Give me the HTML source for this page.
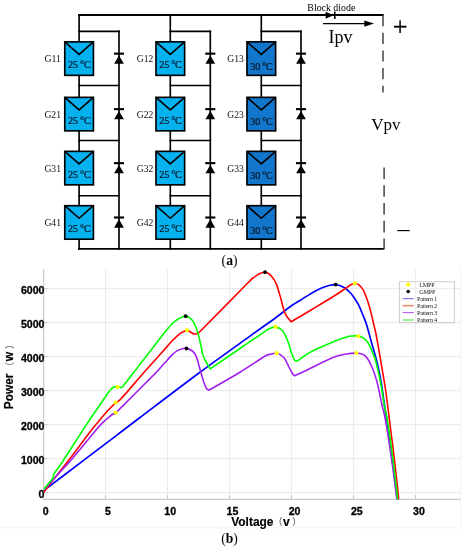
<!DOCTYPE html>
<html><head><meta charset="utf-8"><style>
html,body{margin:0;padding:0;background:#fff;}
svg{display:block;}
</style></head><body>
<svg width="466" height="550" viewBox="0 0 466 550">
<g fill="none" stroke="#000" stroke-width="1.65" stroke-linecap="square"><path d="M79.1 15.0H382.8" stroke-width="1.8"/><path d="M79.1 248.9H383.4" stroke-width="1.9"/><path d="M79.1 15.0V41.85" /><path d="M79.1 75.35V97.35" /><path d="M79.1 130.85V151.35" /><path d="M79.1 184.85V205.7" /><path d="M79.1 239.2V248.9" /><path d="M79.1 31.35H119.0" /><path d="M79.1 85.45H119.0" /><path d="M79.1 140.5H119.0" /><path d="M79.1 195.7H119.0" /><path d="M119.0 31.35V248.9" /><path d="M170.3 15.0V41.85" /><path d="M170.3 75.35V97.35" /><path d="M170.3 130.85V151.35" /><path d="M170.3 184.85V205.7" /><path d="M170.3 239.2V248.9" /><path d="M170.3 31.35H210.3" /><path d="M170.3 85.45H210.3" /><path d="M170.3 140.5H210.3" /><path d="M170.3 195.7H210.3" /><path d="M210.3 31.35V248.9" /><path d="M261.3 15.0V41.85" /><path d="M261.3 75.35V97.35" /><path d="M261.3 130.85V151.35" /><path d="M261.3 184.85V205.7" /><path d="M261.3 239.2V248.9" /><path d="M261.3 31.35H301.0" /><path d="M261.3 85.45H301.0" /><path d="M261.3 140.5H301.0" /><path d="M261.3 195.7H301.0" /><path d="M301.0 31.35V248.9" /></g><g fill="#000"><path d="M114.10 63.80L119.0 55.40L123.90 63.80Z" /><rect x="113.95" y="52.60" width="10.1" height="2.1" /><path d="M114.10 119.30L119.0 110.90L123.90 119.30Z" /><rect x="113.95" y="108.10" width="10.1" height="2.1" /><path d="M114.10 173.30L119.0 164.90L123.90 173.30Z" /><rect x="113.95" y="162.10" width="10.1" height="2.1" /><path d="M114.10 227.65L119.0 219.25L123.90 227.65Z" /><rect x="113.95" y="216.45" width="10.1" height="2.1" /><path d="M205.40 63.80L210.3 55.40L215.20 63.80Z" /><rect x="205.25" y="52.60" width="10.1" height="2.1" /><path d="M205.40 119.30L210.3 110.90L215.20 119.30Z" /><rect x="205.25" y="108.10" width="10.1" height="2.1" /><path d="M205.40 173.30L210.3 164.90L215.20 173.30Z" /><rect x="205.25" y="162.10" width="10.1" height="2.1" /><path d="M205.40 227.65L210.3 219.25L215.20 227.65Z" /><rect x="205.25" y="216.45" width="10.1" height="2.1" /><path d="M296.10 63.80L301.0 55.40L305.90 63.80Z" /><rect x="295.95" y="52.60" width="10.1" height="2.1" /><path d="M296.10 119.30L301.0 110.90L305.90 119.30Z" /><rect x="295.95" y="108.10" width="10.1" height="2.1" /><path d="M296.10 173.30L301.0 164.90L305.90 173.30Z" /><rect x="295.95" y="162.10" width="10.1" height="2.1" /><path d="M296.10 227.65L301.0 219.25L305.90 227.65Z" /><rect x="295.95" y="216.45" width="10.1" height="2.1" /></g><rect x="64.77" y="41.85" width="28.65" height="33.5" fill="#06B1F0" stroke="#000" stroke-width="1.65"/><path d="M64.77 41.85L79.10 54.45L93.42 41.85" fill="none" stroke="#000" stroke-width="1.6"/><rect x="64.77" y="97.35" width="28.65" height="33.5" fill="#06B1F0" stroke="#000" stroke-width="1.65"/><path d="M64.77 97.35L79.10 109.94999999999999L93.42 97.35" fill="none" stroke="#000" stroke-width="1.6"/><rect x="64.77" y="151.35" width="28.65" height="33.5" fill="#06B1F0" stroke="#000" stroke-width="1.65"/><path d="M64.77 151.35L79.10 163.95L93.42 151.35" fill="none" stroke="#000" stroke-width="1.6"/><rect x="64.77" y="205.7" width="28.65" height="33.5" fill="#06B1F0" stroke="#000" stroke-width="1.65"/><path d="M64.77 205.7L79.10 218.29999999999998L93.42 205.7" fill="none" stroke="#000" stroke-width="1.6"/><rect x="155.98" y="41.85" width="28.65" height="33.5" fill="#06B1F0" stroke="#000" stroke-width="1.65"/><path d="M155.98 41.85L170.30 54.45L184.63 41.85" fill="none" stroke="#000" stroke-width="1.6"/><rect x="155.98" y="97.35" width="28.65" height="33.5" fill="#06B1F0" stroke="#000" stroke-width="1.65"/><path d="M155.98 97.35L170.30 109.94999999999999L184.63 97.35" fill="none" stroke="#000" stroke-width="1.6"/><rect x="155.98" y="151.35" width="28.65" height="33.5" fill="#06B1F0" stroke="#000" stroke-width="1.65"/><path d="M155.98 151.35L170.30 163.95L184.63 151.35" fill="none" stroke="#000" stroke-width="1.6"/><rect x="155.98" y="205.7" width="28.65" height="33.5" fill="#06B1F0" stroke="#000" stroke-width="1.65"/><path d="M155.98 205.7L170.30 218.29999999999998L184.63 205.7" fill="none" stroke="#000" stroke-width="1.6"/><rect x="246.98" y="41.85" width="28.65" height="33.5" fill="#1276CC" stroke="#000" stroke-width="1.65"/><path d="M246.98 41.85L261.30 54.45L275.62 41.85" fill="none" stroke="#000" stroke-width="1.6"/><rect x="246.98" y="97.35" width="28.65" height="33.5" fill="#1276CC" stroke="#000" stroke-width="1.65"/><path d="M246.98 97.35L261.30 109.94999999999999L275.62 97.35" fill="none" stroke="#000" stroke-width="1.6"/><rect x="246.98" y="151.35" width="28.65" height="33.5" fill="#1276CC" stroke="#000" stroke-width="1.65"/><path d="M246.98 151.35L261.30 163.95L275.62 151.35" fill="none" stroke="#000" stroke-width="1.6"/><rect x="246.98" y="205.7" width="28.65" height="33.5" fill="#1276CC" stroke="#000" stroke-width="1.65"/><path d="M246.98 205.7L261.30 218.29999999999998L275.62 205.7" fill="none" stroke="#000" stroke-width="1.6"/><g font-family="Liberation Serif, serif" fill="#111"><text x="79.30" y="68.35" text-anchor="middle" font-size="10.2" letter-spacing="-0.25" fill="#08141f" stroke="#08141f" stroke-width="0.22">25 °C</text><text x="61.00" y="62.25" text-anchor="end" font-size="11.4" textLength="16.6" lengthAdjust="spacingAndGlyphs">G11</text><text x="79.30" y="123.85" text-anchor="middle" font-size="10.2" letter-spacing="-0.25" fill="#08141f" stroke="#08141f" stroke-width="0.22">25 °C</text><text x="61.00" y="117.75" text-anchor="end" font-size="11.4" textLength="16.6" lengthAdjust="spacingAndGlyphs">G21</text><text x="79.30" y="177.85" text-anchor="middle" font-size="10.2" letter-spacing="-0.25" fill="#08141f" stroke="#08141f" stroke-width="0.22">25 °C</text><text x="61.00" y="171.75" text-anchor="end" font-size="11.4" textLength="16.6" lengthAdjust="spacingAndGlyphs">G31</text><text x="79.30" y="232.20" text-anchor="middle" font-size="10.2" letter-spacing="-0.25" fill="#08141f" stroke="#08141f" stroke-width="0.22">25 °C</text><text x="61.00" y="226.10" text-anchor="end" font-size="11.4" textLength="16.6" lengthAdjust="spacingAndGlyphs">G41</text><text x="170.50" y="68.35" text-anchor="middle" font-size="10.2" letter-spacing="-0.25" fill="#08141f" stroke="#08141f" stroke-width="0.22">25 °C</text><text x="153.40" y="62.25" text-anchor="end" font-size="11.4" textLength="16.6" lengthAdjust="spacingAndGlyphs">G12</text><text x="170.50" y="123.85" text-anchor="middle" font-size="10.2" letter-spacing="-0.25" fill="#08141f" stroke="#08141f" stroke-width="0.22">25 °C</text><text x="153.40" y="117.75" text-anchor="end" font-size="11.4" textLength="16.6" lengthAdjust="spacingAndGlyphs">G22</text><text x="170.50" y="177.85" text-anchor="middle" font-size="10.2" letter-spacing="-0.25" fill="#08141f" stroke="#08141f" stroke-width="0.22">25 °C</text><text x="153.40" y="171.75" text-anchor="end" font-size="11.4" textLength="16.6" lengthAdjust="spacingAndGlyphs">G32</text><text x="170.50" y="232.20" text-anchor="middle" font-size="10.2" letter-spacing="-0.25" fill="#08141f" stroke="#08141f" stroke-width="0.22">25 °C</text><text x="153.40" y="226.10" text-anchor="end" font-size="11.4" textLength="16.6" lengthAdjust="spacingAndGlyphs">G42</text><text x="261.50" y="69.75" text-anchor="middle" font-size="10.2" letter-spacing="-0.25" fill="#08141f" stroke="#08141f" stroke-width="0.22">30 °C</text><text x="243.90" y="62.25" text-anchor="end" font-size="11.4" textLength="16.6" lengthAdjust="spacingAndGlyphs">G13</text><text x="261.50" y="125.25" text-anchor="middle" font-size="10.2" letter-spacing="-0.25" fill="#08141f" stroke="#08141f" stroke-width="0.22">30 °C</text><text x="243.90" y="117.75" text-anchor="end" font-size="11.4" textLength="16.6" lengthAdjust="spacingAndGlyphs">G23</text><text x="261.50" y="179.25" text-anchor="middle" font-size="10.2" letter-spacing="-0.25" fill="#08141f" stroke="#08141f" stroke-width="0.22">30 °C</text><text x="243.90" y="171.75" text-anchor="end" font-size="11.4" textLength="16.6" lengthAdjust="spacingAndGlyphs">G33</text><text x="261.50" y="233.60" text-anchor="middle" font-size="10.2" letter-spacing="-0.25" fill="#08141f" stroke="#08141f" stroke-width="0.22">30 °C</text><text x="243.90" y="226.10" text-anchor="end" font-size="11.4" textLength="16.6" lengthAdjust="spacingAndGlyphs">G44</text></g><g font-family="Liberation Serif, serif" fill="#000"><text x="307.3" y="10.8" font-size="9.9">Block diode</text><text x="328.5" y="42.5" font-size="18">Ipv</text><text x="371.3" y="130" font-size="17">Vpv</text><text x="221.6" y="265.2" font-size="13.6">(<tspan font-weight="bold">a</tspan>)</text><text x="221.2" y="543.4" font-size="13.6">(<tspan font-weight="bold">b</tspan>)</text></g><path d="M325.6 11.7L333.6 15.2L325.6 18.8Z" fill="#000"/><rect x="334" y="11.6" width="1.6" height="7.4" fill="#000"/><path d="M323 23.6H366" stroke="#000" stroke-width="1.4"/><path d="M364.3 20.5L374 23.6L364.3 26.7Z" fill="#000"/><text x="392.7" y="35.3" font-family="Liberation Serif, serif" font-size="26.2" fill="#000" stroke="#000" stroke-width="0.3">+</text><text x="397.4" y="236.0" font-family="Liberation Serif, serif" font-size="24.1" fill="#000">–</text><path d="M383 15V92.5" stroke="#444" stroke-width="1.5" stroke-dasharray="11.2 6.5" /><path d="M384.1 167.4V249" stroke="#444" stroke-width="1.5" stroke-dasharray="11.6 6.2" /><path d="M0 527.9H460.6V268" fill="none" stroke="#f2f2f2" stroke-width="1"/><path d="M105.5 269V499.3 M167.5 269V499.3 M229.4 269V499.3 M291.4 269V499.3 M353.4 269V499.3 M415.4 269V499.3 M43.7 492.6H460.6 M43.7 458.6H460.6 M43.7 424.6H460.6 M43.7 390.6H460.6 M43.7 356.6H460.6 M43.7 322.6H460.6 M43.7 288.6H460.6" stroke="#ebebeb" stroke-width="1" fill="none"/><path d="M105.5 495.2V499.3 M167.5 495.2V499.3 M229.4 495.2V499.3 M291.4 495.2V499.3 M353.4 495.2V499.3 M415.4 495.2V499.3 M43.7 492.6H47.9 M43.7 458.6H47.9 M43.7 424.6H47.9 M43.7 390.6H47.9 M43.7 356.6H47.9 M43.7 322.6H47.9 M43.7 288.6H47.9" stroke="#c4c4c4" stroke-width="1" fill="none"/><path d="M43.7 269V499.3H460.6" stroke="#c8c8c8" stroke-width="1.2" fill="none"/><g font-family="Liberation Sans, Arial, sans-serif" font-weight="bold" font-size="10.6" fill="#000" stroke="#000" stroke-width="0.3"><text x="44.5" y="497.9" text-anchor="end">0</text><text x="44.5" y="463.9" text-anchor="end">1000</text><text x="44.5" y="429.9" text-anchor="end">2000</text><text x="44.5" y="395.9" text-anchor="end">3000</text><text x="44.5" y="361.9" text-anchor="end">4000</text><text x="44.5" y="327.9" text-anchor="end">5000</text><text x="44.5" y="293.9" text-anchor="end">6000</text><text x="45.8" y="514.6" text-anchor="middle">0</text><text x="108.0" y="514.6" text-anchor="middle">5</text><text x="170.2" y="514.6" text-anchor="middle">10</text><text x="232.4" y="514.6" text-anchor="middle">15</text><text x="294.6" y="514.6" text-anchor="middle">20</text><text x="356.8" y="514.6" text-anchor="middle">25</text><text x="419.0" y="514.6" text-anchor="middle">30</text></g><text font-family="Liberation Sans, Arial, sans-serif" font-weight="bold" font-size="12.2" fill="#000" stroke="#000" stroke-width="0.15"><tspan x="231.2" y="525.8" textLength="42.3" lengthAdjust="spacingAndGlyphs">Voltage</tspan><tspan x="273.1" y="525.1" font-family="Noto Sans CJK SC, sans-serif" font-weight="normal" font-size="9.5" fill="#444" stroke="none">（</tspan><tspan x="283.1" y="525.6">v</tspan><tspan x="292.3" y="525.1" font-family="Noto Sans CJK SC, sans-serif" font-weight="normal" font-size="9.5" fill="#444" stroke="none">）</tspan></text><text transform="translate(12.7 409.2) rotate(-90)" font-family="Liberation Sans, Arial, sans-serif" font-weight="bold" font-size="12.2" fill="#000" stroke="#000" stroke-width="0.15"><tspan x="0" y="0" textLength="35.6" lengthAdjust="spacingAndGlyphs">Power</tspan><tspan x="37.6" y="0.3" font-family="Noto Sans CJK SC, sans-serif" font-weight="normal" font-size="9.5" fill="#444" stroke="none">（</tspan><tspan x="47.9" y="0.4">w</tspan><tspan x="60.3" y="0.3" font-family="Noto Sans CJK SC, sans-serif" font-weight="normal" font-size="9.5" fill="#444" stroke="none">）</tspan></text><svg x="43.7" y="260" width="417" height="239.3" viewBox="43.7 260 417 239.3" overflow="hidden"><path d="M43.60 490.60 C46.67 488.28 50.93 485.07 62.00 476.70 C73.07 468.33 97.00 450.27 110.00 440.40 C123.00 430.53 125.00 428.87 140.00 417.50 C155.00 406.13 181.67 385.77 200.00 372.20 C218.33 358.63 237.50 345.10 250.00 336.10 C262.50 327.10 268.33 323.08 275.00 318.20 C281.67 313.32 285.72 309.83 290.00 306.80 C294.28 303.77 297.12 302.27 300.70 300.00 C304.28 297.73 307.92 295.23 311.50 293.20 C315.08 291.17 319.28 289.08 322.20 287.80 C325.12 286.52 326.75 286.03 329.00 285.50 C331.25 284.97 333.27 284.32 335.70 284.60 C338.13 284.88 341.20 285.88 343.60 287.20 C346.00 288.52 348.32 290.70 350.10 292.50 C351.88 294.30 352.88 295.93 354.30 298.00 C355.72 300.07 357.45 302.75 358.60 304.90 C359.75 307.05 360.35 308.90 361.20 310.90 C362.05 312.90 362.87 314.78 363.70 316.90 C364.53 319.02 365.28 320.77 366.20 323.60 C367.12 326.43 368.28 330.62 369.20 333.90 C370.12 337.18 370.95 340.62 371.70 343.30 C372.45 345.98 372.78 346.73 373.70 350.00 C374.62 353.27 376.18 358.73 377.20 362.90 C378.22 367.07 379.07 371.32 379.80 375.00 C380.53 378.68 380.82 380.00 381.60 385.00 C382.38 390.00 383.67 399.17 384.50 405.00 C385.33 410.83 385.30 410.83 386.60 420.00 C387.90 429.17 390.52 446.70 392.30 460.00 C394.08 473.30 396.47 493.17 397.30 499.80" fill="none" stroke="#0000ff" stroke-width="1.7" stroke-linejoin="round" stroke-linecap="round"/><path d="M43.60 492.50 C46.33 488.95 55.60 476.85 60.00 471.20 C64.40 465.55 65.15 464.93 70.00 458.60 C74.85 452.27 83.48 440.42 89.10 433.20 C94.72 425.98 100.18 419.48 103.70 415.30 C107.22 411.12 108.50 409.90 110.20 408.10 C111.90 406.30 112.98 405.40 113.90 404.50 C114.82 403.60 114.98 403.22 115.70 402.70 C116.42 402.18 116.65 402.78 118.20 401.40 C119.75 400.02 120.32 399.67 125.00 394.40 C129.68 389.13 139.22 377.85 146.30 369.80 C153.38 361.75 163.30 350.82 167.50 346.10 C171.70 341.38 169.95 343.13 171.50 341.50 C173.05 339.87 175.20 337.73 176.80 336.30 C178.40 334.87 179.43 333.88 181.10 332.90 C182.77 331.92 185.18 330.52 186.80 330.40 C188.42 330.28 189.60 331.60 190.80 332.20 C192.00 332.80 192.75 333.83 194.00 334.00 C195.25 334.17 197.58 333.33 198.30 333.20 C206.58 324.80 239.05 291.83 248.00 282.80 C256.95 273.77 250.67 280.17 252.00 279.00 C253.33 277.83 254.67 276.72 256.00 275.80 C257.33 274.88 258.50 274.08 260.00 273.50 C261.50 272.92 263.67 272.33 265.00 272.30 C266.33 272.27 266.92 272.65 268.00 273.30 C269.08 273.95 270.42 275.02 271.50 276.20 C272.58 277.38 273.62 278.92 274.50 280.40 C275.38 281.88 276.12 283.33 276.80 285.10 C277.48 286.87 278.00 289.03 278.60 291.00 C279.20 292.97 279.80 294.73 280.40 296.90 C281.00 299.07 281.62 301.83 282.20 304.00 C282.78 306.17 283.32 308.13 283.90 309.90 C284.48 311.67 285.00 313.23 285.70 314.60 C286.40 315.97 287.20 316.90 288.10 318.10 C289.00 319.30 290.60 321.18 291.10 321.80 C294.50 319.78 304.53 313.87 311.50 309.70 C318.47 305.53 327.18 300.38 332.90 296.80 C338.62 293.22 342.95 290.13 345.80 288.20 C348.65 286.27 348.50 286.02 350.00 285.20 C351.50 284.38 353.37 283.38 354.80 283.30 C356.23 283.22 357.25 283.68 358.60 284.70 C359.95 285.72 361.62 287.32 362.90 289.40 C364.18 291.48 365.30 294.62 366.30 297.20 C367.30 299.78 368.12 302.33 368.90 304.90 C369.68 307.47 370.37 310.08 371.00 312.60 C371.63 315.12 371.93 316.73 372.70 320.00 C373.47 323.27 374.77 328.32 375.60 332.20 C376.43 336.08 377.15 340.33 377.70 343.30 C378.25 346.27 378.13 345.55 378.90 350.00 C379.67 354.45 381.18 363.33 382.30 370.00 C383.42 376.67 384.62 383.33 385.60 390.00 C386.58 396.67 387.35 403.33 388.20 410.00 C389.05 416.67 389.65 421.67 390.70 430.00 C391.75 438.33 393.15 448.37 394.50 460.00 C395.85 471.63 398.08 493.17 398.80 499.80" fill="none" stroke="#ff0000" stroke-width="1.6" stroke-linejoin="round" stroke-linecap="round"/><path d="M43.60 490.40 C46.67 486.98 57.60 474.77 62.00 469.90 C66.40 465.03 65.33 466.63 70.00 461.20 C74.67 455.77 85.15 443.10 90.00 437.30 C94.85 431.50 96.52 429.28 99.10 426.40 C101.68 423.52 103.53 421.82 105.50 420.00 C107.47 418.18 109.57 416.55 110.90 415.50 C112.23 414.45 112.70 414.17 113.50 413.70 C114.30 413.23 114.98 413.17 115.70 412.70 C116.42 412.23 111.25 417.42 117.80 410.90 C124.35 404.38 147.77 380.95 155.00 373.60 C162.23 366.25 159.17 369.03 161.20 366.80 C163.23 364.57 165.35 362.23 167.20 360.20 C169.05 358.17 170.58 356.20 172.30 354.60 C174.02 353.00 175.78 351.57 177.50 350.60 C179.22 349.63 181.10 349.17 182.60 348.80 C184.10 348.43 184.87 348.03 186.50 348.40 C188.13 348.77 190.90 349.92 192.40 351.00 C193.90 352.08 194.60 353.22 195.50 354.90 C196.40 356.58 197.15 359.03 197.80 361.10 C198.45 363.17 198.75 364.98 199.40 367.30 C200.05 369.62 200.93 372.42 201.70 375.00 C202.47 377.58 203.23 380.60 204.00 382.80 C204.77 385.00 205.52 386.97 206.30 388.20 C207.08 389.43 208.30 389.87 208.70 390.20 C209.75 389.62 209.78 389.70 215.00 386.70 C220.22 383.70 231.77 377.23 240.00 372.20 C248.23 367.17 259.30 359.50 264.40 356.50 C269.50 353.50 268.53 354.75 270.60 354.20 C272.67 353.65 275.15 353.10 276.80 353.20 C278.45 353.30 279.17 353.88 280.50 354.80 C281.83 355.72 283.67 357.22 284.80 358.70 C285.93 360.18 286.42 361.92 287.30 363.70 C288.18 365.48 289.23 367.77 290.10 369.40 C290.97 371.03 291.78 372.43 292.50 373.50 C293.22 374.57 294.08 375.42 294.40 375.80 C296.53 374.83 300.78 373.03 307.20 370.00 C313.62 366.97 326.12 360.32 332.90 357.60 C339.68 354.88 343.98 354.45 347.90 353.70 C351.82 352.95 354.38 353.13 356.40 353.10 C358.42 353.07 358.68 353.15 360.00 353.50 C361.32 353.85 362.87 354.07 364.30 355.20 C365.73 356.33 367.32 358.30 368.60 360.30 C369.88 362.30 371.00 364.92 372.00 367.20 C373.00 369.48 373.82 371.72 374.60 374.00 C375.38 376.28 375.98 378.23 376.70 380.90 C377.42 383.57 378.02 385.98 378.90 390.00 C379.78 394.02 380.90 400.00 382.00 405.00 C383.10 410.00 383.88 410.83 385.50 420.00 C387.12 429.17 389.78 446.70 391.70 460.00 C393.62 473.30 396.12 493.17 397.00 499.80" fill="none" stroke="#a020f0" stroke-width="1.6" stroke-linejoin="round" stroke-linecap="round"/><path d="M43.60 489.60 C45.25 487.58 51.85 479.52 53.50 477.50 C53.50 476.97 53.50 474.83 53.50 474.30 C54.92 472.33 57.58 469.12 62.00 462.50 C66.42 455.88 75.33 441.80 80.00 434.60 C84.67 427.40 86.15 425.03 90.00 419.30 C93.85 413.57 100.43 404.08 103.10 400.20 C105.77 396.32 105.12 397.32 106.00 396.00 C106.88 394.68 107.57 393.43 108.40 392.30 C109.23 391.17 110.15 390.03 111.00 389.20 C111.85 388.37 112.67 387.73 113.50 387.30 C114.33 386.87 115.17 386.67 116.00 386.60 C116.83 386.53 117.75 386.77 118.50 386.90 C119.25 387.03 119.92 387.30 120.50 387.40 C121.08 387.50 121.75 387.48 122.00 387.50 C129.00 378.47 156.42 343.05 164.00 333.30 C171.58 323.55 166.33 330.38 167.50 329.00 C168.67 327.62 169.83 326.22 171.00 325.00 C172.17 323.78 173.25 322.73 174.50 321.70 C175.75 320.67 177.17 319.60 178.50 318.80 C179.83 318.00 181.30 317.35 182.50 316.90 C183.70 316.45 184.50 315.93 185.70 316.10 C186.90 316.27 188.50 317.07 189.70 317.90 C190.90 318.73 191.83 319.50 192.90 321.10 C193.97 322.70 195.12 325.00 196.10 327.50 C197.08 330.00 198.00 333.08 198.80 336.10 C199.60 339.12 200.28 342.72 200.90 345.60 C201.52 348.48 201.85 351.07 202.50 353.40 C203.15 355.73 203.90 357.67 204.80 359.60 C205.70 361.53 207.00 363.45 207.90 365.00 C208.80 366.55 209.82 368.25 210.20 368.90 C215.17 365.50 230.97 354.68 240.00 348.50 C249.03 342.32 259.40 335.13 264.40 331.80 C269.40 328.47 268.15 329.32 270.00 328.50 C271.85 327.68 273.40 326.52 275.50 326.90 C277.60 327.28 280.52 328.37 282.60 330.80 C284.68 333.23 286.57 337.93 288.00 341.50 C289.43 345.07 290.13 349.17 291.20 352.20 C292.27 355.23 293.43 358.20 294.40 359.70 C295.37 361.20 296.57 360.95 297.00 361.20 C299.42 359.58 305.52 354.72 311.50 351.50 C317.48 348.28 326.83 344.40 332.90 341.90 C338.97 339.40 344.72 337.48 347.90 336.50 C351.08 335.52 350.28 336.07 352.00 336.00 C353.72 335.93 356.27 335.73 358.20 336.10 C360.13 336.47 361.98 337.13 363.60 338.20 C365.22 339.27 366.68 340.78 367.90 342.50 C369.12 344.22 370.05 346.65 370.90 348.50 C371.75 350.35 372.32 351.92 373.00 353.60 C373.68 355.28 374.23 356.05 375.00 358.60 C375.77 361.15 376.82 365.62 377.60 368.90 C378.38 372.18 378.98 374.78 379.70 378.30 C380.42 381.82 381.15 385.55 381.90 390.00 C382.65 394.45 383.30 400.00 384.20 405.00 C385.10 410.00 385.83 410.83 387.30 420.00 C388.77 429.17 391.27 446.70 393.00 460.00 C394.73 473.30 396.92 493.17 397.70 499.80" fill="none" stroke="#00ff00" stroke-width="1.6" stroke-linejoin="round" stroke-linecap="round"/></svg><circle cx="117.7" cy="387.1" r="2.1" fill="#ffff00"/><circle cx="115.7" cy="402.7" r="2.1" fill="#ffff00"/><circle cx="115.7" cy="412.7" r="2.1" fill="#ffff00"/><circle cx="187" cy="330.2" r="2.1" fill="#ffff00"/><circle cx="275.6" cy="326.9" r="2.1" fill="#ffff00"/><circle cx="276.8" cy="353.2" r="2.1" fill="#ffff00"/><circle cx="354.8" cy="283.3" r="2.1" fill="#ffff00"/><circle cx="358.3" cy="336.2" r="2.1" fill="#ffff00"/><circle cx="356.4" cy="353.1" r="2.1" fill="#ffff00"/><circle cx="185.7" cy="316.2" r="1.9" fill="#000"/><circle cx="186.5" cy="348.5" r="1.9" fill="#000"/><circle cx="265" cy="272.2" r="1.9" fill="#000"/><circle cx="335.7" cy="284.6" r="1.9" fill="#000"/><g font-family="Liberation Serif, serif" font-size="6.2" letter-spacing="-0.25" fill="#222"><rect x="399.3" y="281.8" width="55" height="41" fill="none" stroke="#c0c0c0" stroke-width="0.8"/><circle cx="408.2" cy="284.6" r="2" fill="#ffff00"/><circle cx="408.2" cy="291.5" r="1.8" fill="#000"/><path d="M402.7 298.6H413.8" stroke="#8080ff" stroke-width="1.3"/><path d="M402.7 305.7H413.8" stroke="#f09078" stroke-width="1.7"/><path d="M402.7 312.6H413.8" stroke="#b060f0" stroke-width="1.1"/><path d="M402.7 320.0H413.8" stroke="#60f060" stroke-width="1.3"/><text x="419.3" y="286.8">LMPP</text><text x="419.3" y="293.8">GMPP</text><text x="417" y="300.8">Pattern 1</text><text x="417" y="307.9">Pattern 2</text><text x="417" y="314.9">Pattern 3</text><text x="417" y="321.9">Pattern 4</text></g>
</svg>
</body></html>
